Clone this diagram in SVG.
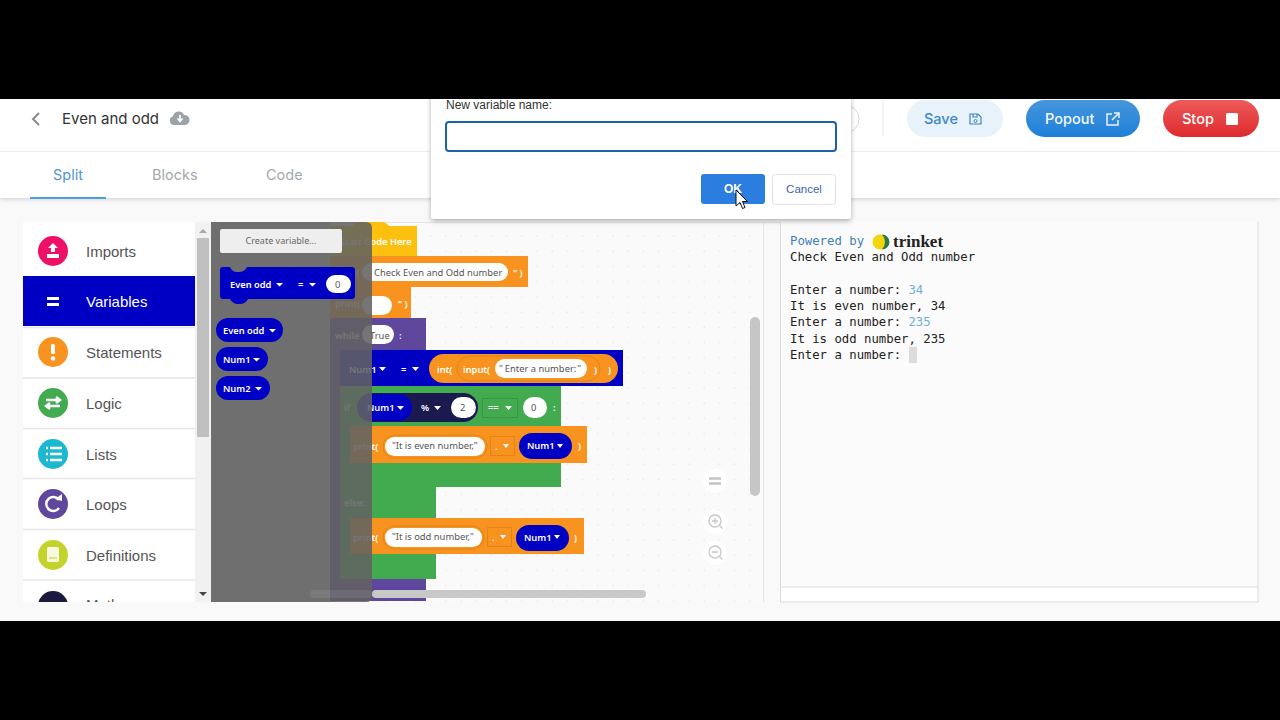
<svg xmlns="http://www.w3.org/2000/svg" width="1280" height="720" viewBox="0 0 1280 720">
<style>
.ui{font-family:Inter,"Liberation Sans",sans-serif}
.side{font-family:"Liberation Sans",Arial,sans-serif;font-size:15px;fill:#555}
.b{font-family:"Noto Sans","Open Sans",sans-serif;font-size:9.300px;font-weight:600;fill:#fff}
.d{font-family:"Noto Sans","Open Sans",sans-serif;font-size:9.400px;fill:#555}
.mono{font-family:"DejaVu Sans Mono","Liberation Mono",monospace;font-size:12.300px;fill:#222}
.o{fill:#f7931e}.g{fill:#43ab4f}.p{fill:#5e479c}.bl{fill:#0000c4}
.w{fill:#fff}
.ic{fill:none;stroke:#fff;stroke-width:2.400}
.line{fill:none;stroke:#e6e6e6;stroke-width:1.500}
</style>
<defs>
<pattern id="dots" width="15.200" height="15.200" patternUnits="userSpaceOnUse" x="2" y="5"><circle cx="3" cy="3" r="0.700" fill="#e0e0e0"/></pattern>
<linearGradient id="pop" x1="0" y1="0" x2="0" y2="1"><stop offset="0" stop-color="#4696dc"/><stop offset="1" stop-color="#1e7fd8"/></linearGradient>
<linearGradient id="stp" x1="0" y1="0" x2="0" y2="1"><stop offset="0" stop-color="#ee5a5a"/><stop offset="1" stop-color="#de2a2e"/></linearGradient>
<clipPath id="sb"><rect x="23" y="222" width="172" height="380"/></clipPath>
<filter id="sh" x="-5%" y="-10%" width="110%" height="125%"><feDropShadow dx="0" dy="2" stdDeviation="2.500" flood-color="#000" flood-opacity=".3"/></filter>
<filter id="sh2" x="-5%" y="-20%" width="110%" height="150%"><feDropShadow dx="0" dy="1.500" stdDeviation="2" flood-color="#000" flood-opacity=".15"/></filter>
</defs>
<rect width="1280" height="720" fill="#000"/>
<rect y="99" width="1280" height="522" fill="#f9f9f9"/>

<g id="header">
<rect y="99" width="1280" height="52" fill="#fff"/>
<path d="M39 113l-6 6 6 6" fill="none" stroke="#8a8a8a" stroke-width="2"/>
<text x="62" y="124" class="ui" font-size="15" fill="#333">Even and odd</text>
<path d="M175 125h-1a4.500 4.500 0 0 1-1-8.800a5.800 5.800 0 0 1 11-1.200a5 5 0 0 1 1 10z" fill="#9ca3a8"/>
<path d="M180 115v5M177.500 118.500l2.500 3 2.500-3" stroke="#fff" stroke-width="1.700" fill="none"/>
<circle cx="845" cy="119" r="14" fill="none" stroke="#ddd"/>
<line x1="883" y1="100" x2="883" y2="136" stroke="#e8e8e8"/>
<rect x="907" y="100" width="96" height="37" rx="18.500" fill="#e8f2fb"/>
<text x="924" y="124" class="ui" font-size="14.500" font-weight="500" fill="#3f88c5">Save</text>
<path d="M970 114h8l3 3v7h-11zM973 114v3h4v-3" fill="none" stroke="#3f88c5" stroke-width="1.200"/><circle cx="975.500" cy="121" r="1.500" fill="none" stroke="#3f88c5"/>
<rect x="1026" y="100" width="114" height="37" rx="18.500" fill="url(#pop)"/>
<text x="1045" y="124" class="ui" font-size="14.500" font-weight="500" fill="#f4f9fd">Popout</text>
<path d="M1112 114h-5v11h11v-5M1112 120l7-7M1114 113h5v5" fill="none" stroke="#eaf4fc" stroke-width="1.500"/>
<rect x="1163" y="100" width="96" height="37" rx="18.500" fill="url(#stp)"/>
<text x="1182" y="124" class="ui" font-size="14.500" font-weight="500" fill="#fff">Stop</text>
<rect x="1226" y="113" width="12" height="12" rx="1.500" fill="#fff"/>
</g>

<g id="tabs">
<rect y="152" width="1280" height="46" fill="#fff" filter="url(#sh2)"/>
<line x1="0" y1="151.500" x2="1280" y2="151.500" stroke="#eee"/>
<text x="53" y="180" class="ui" font-size="14.500" fill="#4f97cf">Split</text>
<text x="152" y="180" class="ui" font-size="14.500" fill="#a2a8ad">Blocks</text>
<text x="266" y="180" class="ui" font-size="14.500" fill="#a2a8ad">Code</text>
<rect x="30" y="197" width="76" height="2" fill="#4b9fdc"/>
</g>

<g id="workspace">
<rect x="372" y="222" width="391" height="380" fill="#fafafa"/>
<rect x="372" y="222" width="391" height="380" fill="url(#dots)"/>
<line x1="763.500" y1="222" x2="763.500" y2="602" stroke="#e6e6e6"/>
<line x1="330" y1="222.500" x2="1258" y2="222.500" stroke="#e6e6e6"/>
<rect x="750" y="317" width="10" height="179" rx="5" fill="#c6c6c6"/>
<g id="zoom-controls">
<circle cx="715" cy="481" r="12" fill="#fff"/><path d="M709 478.500h12M709 483.500h12" stroke="#c4c4c4" stroke-width="2.500"/>
<circle cx="715" cy="522" r="12" fill="#fff"/><circle cx="715" cy="521" r="6" fill="none" stroke="#c8c8c8" stroke-width="1.300"/><path d="M712 521h6M715 518v6M719.500 525.500l3 3" stroke="#c8c8c8" stroke-width="1.300"/>
<circle cx="715" cy="553" r="12" fill="#fff"/><circle cx="715" cy="552" r="6" fill="none" stroke="#c8c8c8" stroke-width="1.300"/><path d="M712 552h6M719.500 556.500l3 3" stroke="#c8c8c8" stroke-width="1.300"/>
</g>
</g>

<g id="blocks">
<path class="p" d="M330 318h96v34h-86v226h86v23h-96z"/>
<path class="g" d="M340 386h221v101h-125v92h-96z"/>

<g id="block-start">
<path d="M330 226h22q4-4 10-4h20q4 0 7 4h28v30h-87z" fill="#fdc00f"/>
<text x="340" y="245" class="b">Start Code Here</text>
</g>
<g id="block-print-title">
<path class="o" d="M330 256h198v31h-198z"/>
<text x="334" y="276" class="b">print(</text>
<rect x="362" y="263" width="146" height="18" rx="9" class="w"/>
<text x="374" y="276" class="d">Check Even and Odd number</text>
<text x="513" y="276" class="b">" )</text>
</g>
<g id="block-print-blank">
<path class="o" d="M330 287h81v31h-81z"/>
<text x="335" y="307" class="b">print(</text>
<rect x="362" y="296" width="30" height="19" rx="9.500" class="w"/>
<text x="398" y="307" class="b">" )</text>
</g>
<g id="block-while">
<text x="335" y="339" class="b">while</text>
<rect x="362" y="325" width="32" height="19" rx="9.500" class="w"/>
<text x="370" y="339" class="d">True</text>
<text x="399" y="339" class="b">:</text>
</g>
<g id="block-assign">
<path class="bl" d="M340 350h283v36h-283z"/>
<text x="349" y="373" class="b">Num1</text>
<path class="w" d="M379 367h7l-3.500 4zM412 367h7l-3.500 4z"/>
<text x="401" y="373" class="b">=</text>
<rect x="429" y="354" width="189" height="29" rx="14.500" class="o"/>
<rect x="457" y="356" width="143" height="25" rx="12.500" fill="none" stroke="#e08516"/>
<text x="437" y="373" class="b">int(</text>
<text x="463" y="373" class="b">input(</text>
<rect x="495" y="359" width="92" height="19" rx="9.500" class="w"/>
<text x="499" y="372" class="d">"<tspan dx="2">Enter a number:</tspan><tspan dx="1">"</tspan></text>
<text x="594" y="373" class="b">)</text>
<text x="608" y="373" class="b">)</text>
</g>
<g id="block-if">
<rect x="357" y="393" width="121" height="29" rx="14.500" fill="#1a1a4e"/>
<rect x="358" y="394" width="54" height="27" rx="13.500" class="bl"/>
<text x="367" y="411" class="b">Num1</text>
<path class="w" d="M397 406h7l-3.500 4zM434 406h7l-3.500 4z"/>
<text x="421" y="411" class="b">%</text>
<rect x="451" y="397" width="25" height="21" rx="10.500" class="w"/>
<text x="460" y="411" class="d">2</text>
<rect x="482.500" y="398.500" width="35" height="19" fill="none" stroke="#3a9645"/>
<text x="488" y="411" class="b">==</text>
<path class="w" d="M505 406h7l-3.500 4z"/>
<rect x="523" y="397" width="24" height="21" rx="10.500" class="w"/>
<text x="531" y="411" class="d">0</text>
<text x="553" y="411" class="b">:</text>
<text x="344" y="411" class="b">if</text>
<text x="344" y="506" class="b">else:</text>
</g>
<g id="block-print-even">
<path class="o" d="M350 426h237v37h-237z"/>
<text x="353" y="450" class="b">print(</text>
<rect x="383" y="435" width="104" height="23" rx="11.500" fill="none" stroke="#e08516"/>
<rect x="385" y="437" width="100" height="19" rx="9.500" class="w"/>
<text x="392" y="449" class="d">"It is even number,"</text>
<rect x="490.500" y="436.500" width="24" height="19" fill="none" stroke="#e08516"/>
<text x="495" y="450" class="b">.</text><path class="w" d="M503 444h6l-3 4z"/>
<rect x="519" y="433" width="53" height="26" rx="13" class="bl"/>
<text x="527" y="449" class="b">Num1</text><path class="w" d="M557 444h6l-3 4z"/>
<text x="578" y="449" class="b">)</text>
</g>
<g id="block-print-odd">
<path class="o" d="M350 518h234v36h-234z"/>
<text x="353" y="541" class="b">print(</text>
<rect x="383" y="526" width="101" height="23" rx="11.500" fill="none" stroke="#e08516"/>
<rect x="385" y="528" width="97" height="19" rx="9.500" class="w"/>
<text x="392" y="540" class="d">"It is odd number,"</text>
<rect x="487.500" y="527.500" width="24" height="19" fill="none" stroke="#e08516"/>
<text x="492" y="541" class="b">.</text><path class="w" d="M500 535h6l-3 4z"/>
<rect x="516" y="525" width="53" height="26" rx="13" class="bl"/>
<text x="524" y="541" class="b">Num1</text><path class="w" d="M554 535h6l-3 4z"/>
<text x="574" y="541" class="b">)</text>
</g>
</g>
<rect x="372" y="590" width="274" height="8" rx="4" fill="#c8c8c8"/>

<g id="flyout">
<path d="M211 222h119v380h-119z" fill="#6f6f6f"/>
<path d="M330 222h36q6 0 6 6v368q0 6-6 6h-36z" fill="#626262" fill-opacity=".88"/>
<rect x="310" y="590" width="62" height="8" rx="4" fill="#fff" fill-opacity=".08"/>
<rect x="220" y="229" width="122" height="24" rx="2" fill="#eee"/>
<text x="281" y="244" text-anchor="middle" font-family="Noto Sans,sans-serif" font-size="9" fill="#666">Create variable...</text>
<path class="bl" d="M223 267h7c2 4 4 5 8 5s7-1 9-5h105q3 0 3 3v26q0 3-3 3h-104c-2 4-5 5-9 5s-7-1-9-5h-7q-3 0-3-3v-26q0-3 3-3z"/>
<text x="230" y="288" class="b">Even odd</text>
<path class="w" d="M276 283h7l-3.500 3.500zM309 283h7l-3.500 3.500z"/>
<text x="298" y="288" class="b">=</text>
<rect x="326" y="275" width="25" height="18" rx="9" class="w"/>
<text x="335" y="288" class="d">0</text>
<g id="var-even-odd"><rect x="216" y="318" width="67" height="24" rx="12" class="bl"/><text x="223" y="334" class="b">Even odd</text><path class="w" d="M269 329h7l-3.500 3.500z"/></g>
<g id="var-num1"><rect x="216" y="347" width="52" height="24" rx="12" class="bl"/><text x="223" y="363" class="b">Num1</text><path class="w" d="M253 358h7l-3.500 3.500z"/></g>
<g id="var-num2"><rect x="216" y="376" width="54" height="24" rx="12" class="bl"/><text x="223" y="392" class="b">Num2</text><path class="w" d="M255 387h7l-3.500 3.500z"/></g>
</g>

<g id="sidebar">
<rect x="195" y="222" width="16" height="380" fill="#f1f1f1"/>
<rect x="197" y="238" width="12" height="199" fill="#c0c0c0"/>
<path d="M199 233l4-4 4 4z" fill="#a8a8a8"/><path d="M199 592l4 4 4-4z" fill="#444"/>
<rect x="23" y="222" width="172" height="380" fill="#fff"/>
<g clip-path="url(#sb)">
<path class="line" d="M23 327.500h172M23 378h172M23 428.500h172M23 478.500h172M23 529.500h172M23 580h172"/>
<g id="cat-imports"><circle cx="53" cy="251" r="15" fill="#ee0f67"/><path d="M53 243l-5 5h3v4h4v-4h3zM47 254h12v4h-12z" fill="#fff"/><text x="86" y="257" class="side">Imports</text></g>
<g id="cat-variables"><rect x="23" y="276" width="172" height="50" fill="#0000c4"/><path d="M47 298.500h12M47 304.500h12" stroke="#fff" stroke-width="3"/><text x="86" y="307" class="side" style="fill:#fff">Variables</text></g>
<g id="cat-statements"><circle cx="53" cy="352" r="15" fill="#f7931e"/><rect x="51" y="344" width="4" height="10" rx="1.500" fill="#fff"/><circle cx="53" cy="358.500" r="2.200" fill="#fff"/><text x="86" y="358" class="side">Statements</text></g>
<g id="cat-logic"><circle cx="53" cy="403" r="15" fill="#43ab4f"/><path d="M46 400h14M56 397l4 3-4 3M60 406h-14M50 403l-4 3 4 3" class="ic" stroke-width="2"/><text x="86" y="409" class="side">Logic</text></g>
<g id="cat-lists"><circle cx="53" cy="454" r="15" fill="#1cb8d2"/><path d="M50 448h12M50 454h12M50 460h12M46 448h2M46 454h2M46 460h2" class="ic"/><text x="86" y="460" class="side">Lists</text></g>
<g id="cat-loops"><circle cx="53" cy="504" r="15" fill="#5e479c"/><path d="M59 508a7 7 0 1 1 0-8" class="ic" stroke-width="3"/><path d="M55 499l7-5v7z" fill="#fff"/><text x="86" y="510" class="side">Loops</text></g>
<g id="cat-definitions"><circle cx="53" cy="555" r="15" fill="#c3d32c"/><rect x="47" y="547" width="12" height="15" rx="1.500" fill="#fff" fill-opacity=".85"/><path d="M49 558h8" stroke="#c3d32c"/><text x="86" y="561" class="side">Definitions</text></g>
<g id="cat-math"><circle cx="53" cy="606" r="15" fill="#1a1a3e"/><text x="86" y="610" class="side">Math</text></g>
</g>
</g>

<g id="output">
<rect x="780" y="222" width="478" height="365" fill="#fbfbfb"/>
<rect x="780" y="587" width="478" height="15" fill="#fff"/>
<path d="M780.500 222v380M780 587h478M1258 222v380M780 602h478" fill="none" stroke="#dcdcdc"/>
<text x="790" y="245" class="mono" style="fill:#3f7fb5">Powered by</text>
<circle cx="880" cy="242" r="7.500" fill="#f4d40c"/><path d="M882 234.500a7.500 7.500 0 0 1 0 15a11 11 0 0 0 0-15z" fill="#2b7a4b"/>
<text x="893" y="247" font-family="Liberation Serif,serif" font-size="17" font-weight="700" fill="#222">trinket</text>
<text x="790" y="261" class="mono">Check Even and Odd number</text>
<text x="790" y="294" class="mono">Enter a number: <tspan fill="#6fb0d8">34</tspan></text>
<text x="790" y="310" class="mono">It is even number, 34</text>
<text x="790" y="326" class="mono">Enter a number: <tspan fill="#6fb0d8">235</tspan></text>
<text x="790" y="343" class="mono">It is odd number, 235</text>
<text x="790" y="359" class="mono">Enter a number: </text>
<rect x="909" y="347" width="8" height="16" fill="#dcdcdc"/>
</g>

<g id="dialog">
<rect x="431" y="92" width="420" height="127" rx="3" fill="#fff" filter="url(#sh)"/>
<text x="446" y="109" font-family="Liberation Sans,sans-serif" font-size="12" fill="#333">New variable name:</text>
<rect x="446" y="122" width="390" height="29" rx="3" fill="#fff" stroke="#1b62ab" stroke-width="2"/>
<rect x="701" y="174" width="64" height="30" rx="3" fill="#2b7de0"/>
<text x="733" y="193" text-anchor="middle" font-family="Liberation Sans,sans-serif" font-size="12" font-weight="700" fill="#fff">OK</text>
<rect x="772.500" y="174.500" width="63" height="30" rx="3" fill="#fff" stroke="#e2e2e2"/>
<text x="804" y="193" text-anchor="middle" font-family="Liberation Sans,sans-serif" font-size="11.500" fill="#3d63b0">Cancel</text>
<path d="M736 190v16l4-3.500 2.500 6 2.500-1-2.500-6h5z" fill="#fff" stroke="#111" stroke-width="1"/>
</g>
<rect width="1280" height="99" fill="#000"/>
</svg>
